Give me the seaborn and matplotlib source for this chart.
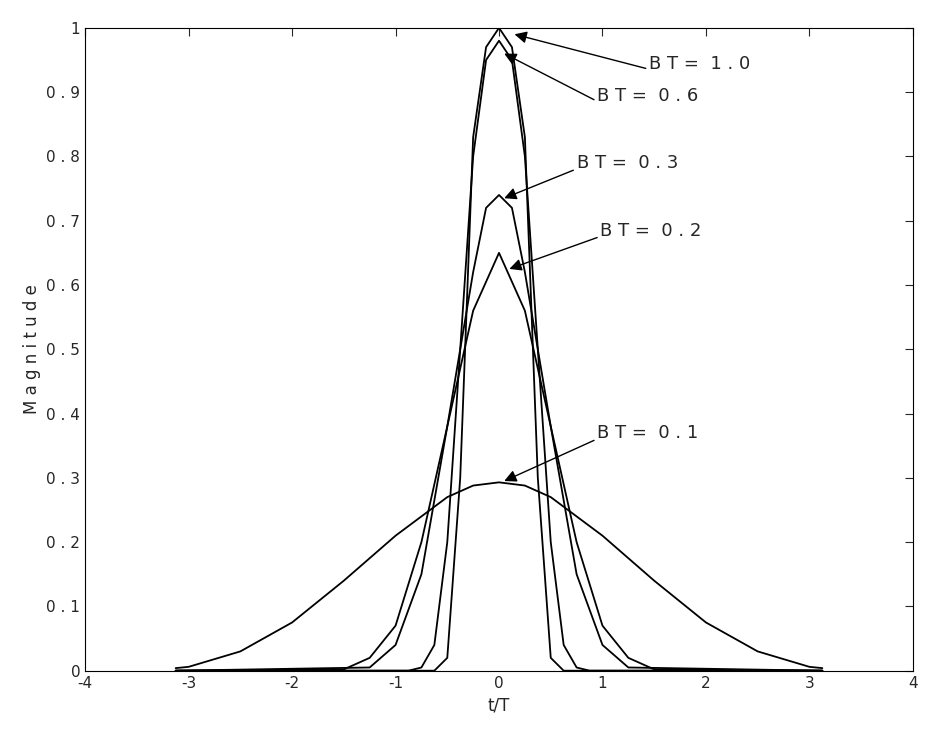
import numpy as np
import pandas as pd
import seaborn as sns
import matplotlib
matplotlib.use("Agg")
import matplotlib.pyplot as plt

sns.set_style("white")
plt.rcParams['font.family'] = ['Liberation Sans Narrow', 'DejaVu Sans']

x01 = [-3.125, -3.0, -2.5, -2.0, -1.5, -1.0, -0.5, -0.25, 0.0, 0.25, 0.5, 1.0, 1.5, 2.0, 2.5, 3.0, 3.125]
y01 = [0.004, 0.006, 0.03, 0.075, 0.14, 0.21, 0.27, 0.288, 0.293, 0.288, 0.27, 0.21, 0.14, 0.075, 0.03, 0.006, 0.004]

x02 = [-3.125, -1.5, -1.25, -1.0, -0.75, -0.5, -0.25, 0.0, 0.25, 0.5, 0.75, 1.0, 1.25, 1.5, 3.125]
y02 = [0.0, 0.002, 0.02, 0.07, 0.2, 0.38, 0.56, 0.65, 0.56, 0.38, 0.2, 0.07, 0.02, 0.002, 0.0]

x03 = [-3.125, -1.25, -1.0, -0.75, -0.5, -0.25, -0.125, 0.0, 0.125, 0.25, 0.5, 0.75, 1.0, 1.25, 3.125]
y03 = [0.0, 0.005, 0.04, 0.15, 0.38, 0.62, 0.72, 0.74, 0.72, 0.62, 0.38, 0.15, 0.04, 0.005, 0.0]

x06 = [-3.125, -0.875, -0.75, -0.625, -0.5, -0.375, -0.25, -0.125, 0.0, 0.125, 0.25, 0.375, 0.5, 0.625, 0.75, 0.875, 3.125]
y06 = [0.0, 0.0, 0.005, 0.04, 0.2, 0.5, 0.8, 0.95, 0.98, 0.95, 0.8, 0.5, 0.2, 0.04, 0.005, 0.0, 0.0]

x10 = [-3.125, -0.625, -0.5, -0.375, -0.25, -0.125, 0.0, 0.125, 0.25, 0.375, 0.5, 0.625, 3.125]
y10 = [0.0, 0.0, 0.02, 0.3, 0.83, 0.97, 1.0, 0.97, 0.83, 0.3, 0.02, 0.0, 0.0]

fig, ax = plt.subplots(figsize=(9.46, 7.33), dpi=100)
for xs, ys in [(x01, y01), (x02, y02), (x03, y03), (x06, y06), (x10, y10)]:
    sns.lineplot(x=xs, y=ys, ax=ax, color='black', lw=1.3, sort=False)

ax.set_xlim(-4, 4)
ax.set_ylim(0, 1)
ax.set_xticks(range(-4, 5))
ax.set_yticks(np.arange(0, 1.01, 0.1))
ax.set_yticklabels(['0'] + [' '.join(f'{v:.1f}') for v in np.arange(0.1, 1.0, 0.1)] + ['1'])
ax.set_xticklabels([str(v) for v in range(-4, 5)])
ax.tick_params(direction='in', top=True, right=True, length=6, labelsize=11)
for s in ax.spines.values():
    s.set_color('black'); s.set_linewidth(0.8)
ax.set_xlabel('t/T', fontsize=12)
ax.set_ylabel('M a g n i t u d e', fontsize=12)

ann = [('B T =  1 . 0', (0.15, 0.99), (1.45, 0.93)),
       ('B T =  0 . 6', (0.05, 0.96), (0.95, 0.88)),
       ('B T =  0 . 3', (0.05, 0.735), (0.75, 0.775)),
       ('B T =  0 . 2', (0.1, 0.625), (0.98, 0.67)),
       ('B T =  0 . 1', (0.05, 0.295), (0.95, 0.355))]
for t, xy, xt in ann:
    ax.annotate(t, xy=xy, xytext=xt, fontsize=13, va='bottom',
                arrowprops=dict(arrowstyle='-|>', color='black', lw=1, mutation_scale=18,
                                shrinkA=0, shrinkB=0, relpos=(0, 0.2)))

plt.subplots_adjust(left=0.09, right=0.965, top=0.962, bottom=0.085)
fig.savefig('out.png', dpi=100)
